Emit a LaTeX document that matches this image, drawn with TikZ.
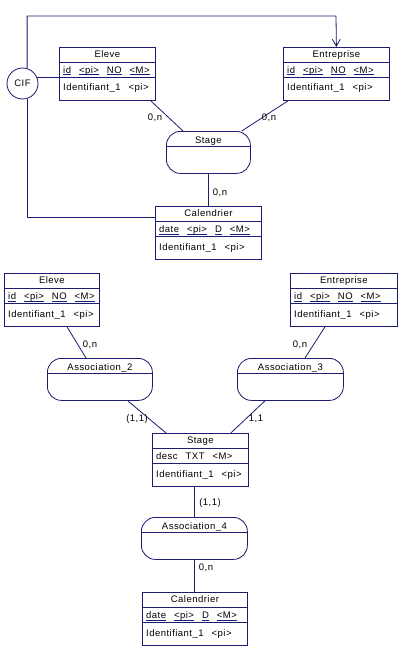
\documentclass[tikz,border=0pt]{standalone}
\usepackage{fontspec}
\setmainfont{Liberation Sans}[LetterSpace=5]
\usetikzlibrary{arrows.meta,calc}
\definecolor{navy}{RGB}{28,28,112}
\newsavebox\ulbox
\newcommand\ulx[1]{\sbox\ulbox{#1}\rlap{\color{navy}\rule[-1.8pt]{\wd\ulbox}{0.8pt}}\usebox\ulbox}
\newcommand\gapx{\hspace{8pt}}
\tikzset{
 ln/.style={draw=navy, line width=0.8pt},
 ent/.style={ln, rectangle, minimum height=53pt, inner sep=0pt, fill=white},
 asso/.style={ln, rectangle, rounded corners=14pt, minimum height=42pt, inner sep=0pt, fill=white},
 txt/.style={inner sep=0pt, font=\fontsize{9.5}{11}\selectfont, text=black},
 card/.style={txt},
}
\newcommand\entity[6]{%
 \node[ent, minimum width=#4pt, anchor=north west] (#1) at (#2,#3) {};
 \draw[ln] ([yshift=-15.5pt]#1.north west) -- ([yshift=-15.5pt]#1.north east);
 \draw[ln] ([yshift=-30pt]#1.north west) -- ([yshift=-30pt]#1.north east);
 \node[txt, anchor=base] (#1-t) at ([yshift=-10.5pt]#1.north) {#5};
 \node[txt, anchor=base west] (#1-a) at ([xshift=4pt,yshift=-26.5pt]#1.north west) {#6};
 \node[txt, anchor=base west] (#1-i) at ([xshift=4pt,yshift=-44pt]#1.north west) {Identifiant\_1\gapx<pi>};
}
\newcommand\assoc[5]{%
 \node[asso, minimum width=#4pt, anchor=north west] (#1) at (#2,#3) {};
 \draw[ln] ([yshift=-15.5pt]#1.north west) -- ([yshift=-15.5pt]#1.north east);
 \node[txt, anchor=base] (#1-t) at ([yshift=-12pt]#1.north) {#5};
}
\begin{document}
\begin{tikzpicture}[x=1pt,y=-1pt]
\useasboundingbox (0,0) rectangle (400,650);
% ---------- top diagram ----------
\entity{e1}{59}{47}{96}{Eleve}{\ulx{id}\gapx\ulx{<pi>}\gapx\ulx{NO}\gapx\ulx{<M>}}
\entity{en1}{283}{47}{106}{Entreprise}{\ulx{id}\gapx\ulx{<pi>}\gapx\ulx{NO}\gapx\ulx{<M>}}
\assoc{s1}{166}{131}{84}{Stage}
\entity{cal1}{155}{206}{106}{Calendrier}{\ulx{date}\gapx\ulx{<pi>}\gapx\ulx{D}\gapx\ulx{<M>}}
\node[ln, circle, minimum size=31pt, inner sep=0pt, fill=white, txt] (cif) at (22.5,83.5) {CIF};
\draw[ln] (cif.21) -- (cif.21 -| e1.west);
\coordinate (tr) at (336,16);
\draw[ln, -{Straight Barb[length=7pt,width=8pt]}] (cif.73) |- (tr) -- (en1.north);
\draw[ln] (cif.287) |- ([yshift=-11pt]cal1.north west);
\draw[ln] ([xshift=-5pt]e1.south east) -- ([xshift=17pt]s1.north west);
\draw[ln] ([xshift=5pt]en1.south west) -- ([xshift=-9pt]s1.north east);
\draw[ln] (s1.south) -- (s1.south |- cal1.north);
\node[card] (c1) at (155,118) {0,n};
\node[card] (c2) at (269,118) {0,n};
\node[card] (c3) at (220,193) {0,n};
% ---------- bottom diagram ----------
\entity{e2}{4}{273}{95}{Eleve}{\ulx{id}\gapx\ulx{<pi>}\gapx\ulx{NO}\gapx\ulx{<M>}}
\entity{en2}{290}{273}{107}{Entreprise}{\ulx{id}\gapx\ulx{<pi>}\gapx\ulx{NO}\gapx\ulx{<M>}}
\assoc{a2}{47}{358}{105}{Association\_2}
\assoc{a3}{237}{358}{106}{Association\_3}
\entity{st2}{152}{433}{96}{Stage}{desc\gapx TXT\gapx<M>}
\assoc{a4}{141}{517}{106}{Association\_4}
\entity{cal2}{142}{592}{105}{Calendrier}{\ulx{date}\gapx\ulx{<pi>}\gapx\ulx{D}\gapx\ulx{<M>}}
\draw[ln] ([xshift=63pt]e2.south west) -- ([xshift=39pt]a2.north west);
\draw[ln] ([xshift=35pt]en2.south west) -- ([xshift=68pt]a3.north west);
\draw[ln] ([xshift=-25pt]a2.south east) -- ([xshift=14pt]st2.north west);
\draw[ln] ([xshift=28pt]a3.south west) -- ([xshift=-18pt]st2.north east);
\draw[ln] (a4.north |- st2.south) -- (a4.north);
\draw[ln] (a4.south) -- (a4.south |- cal2.north);
\node[card] (d1) at (90,345) {0,n};
\node[card] (d2) at (300,345) {0,n};
\node[card] (d3) at (137,419) {(1,1)};
\node[card] (d4) at (256,419) {1,1};
\node[card] (d5) at (210,503) {(1,1)};
\node[card] (d6) at (206,568) {0,n};
\end{tikzpicture}
\end{document}
